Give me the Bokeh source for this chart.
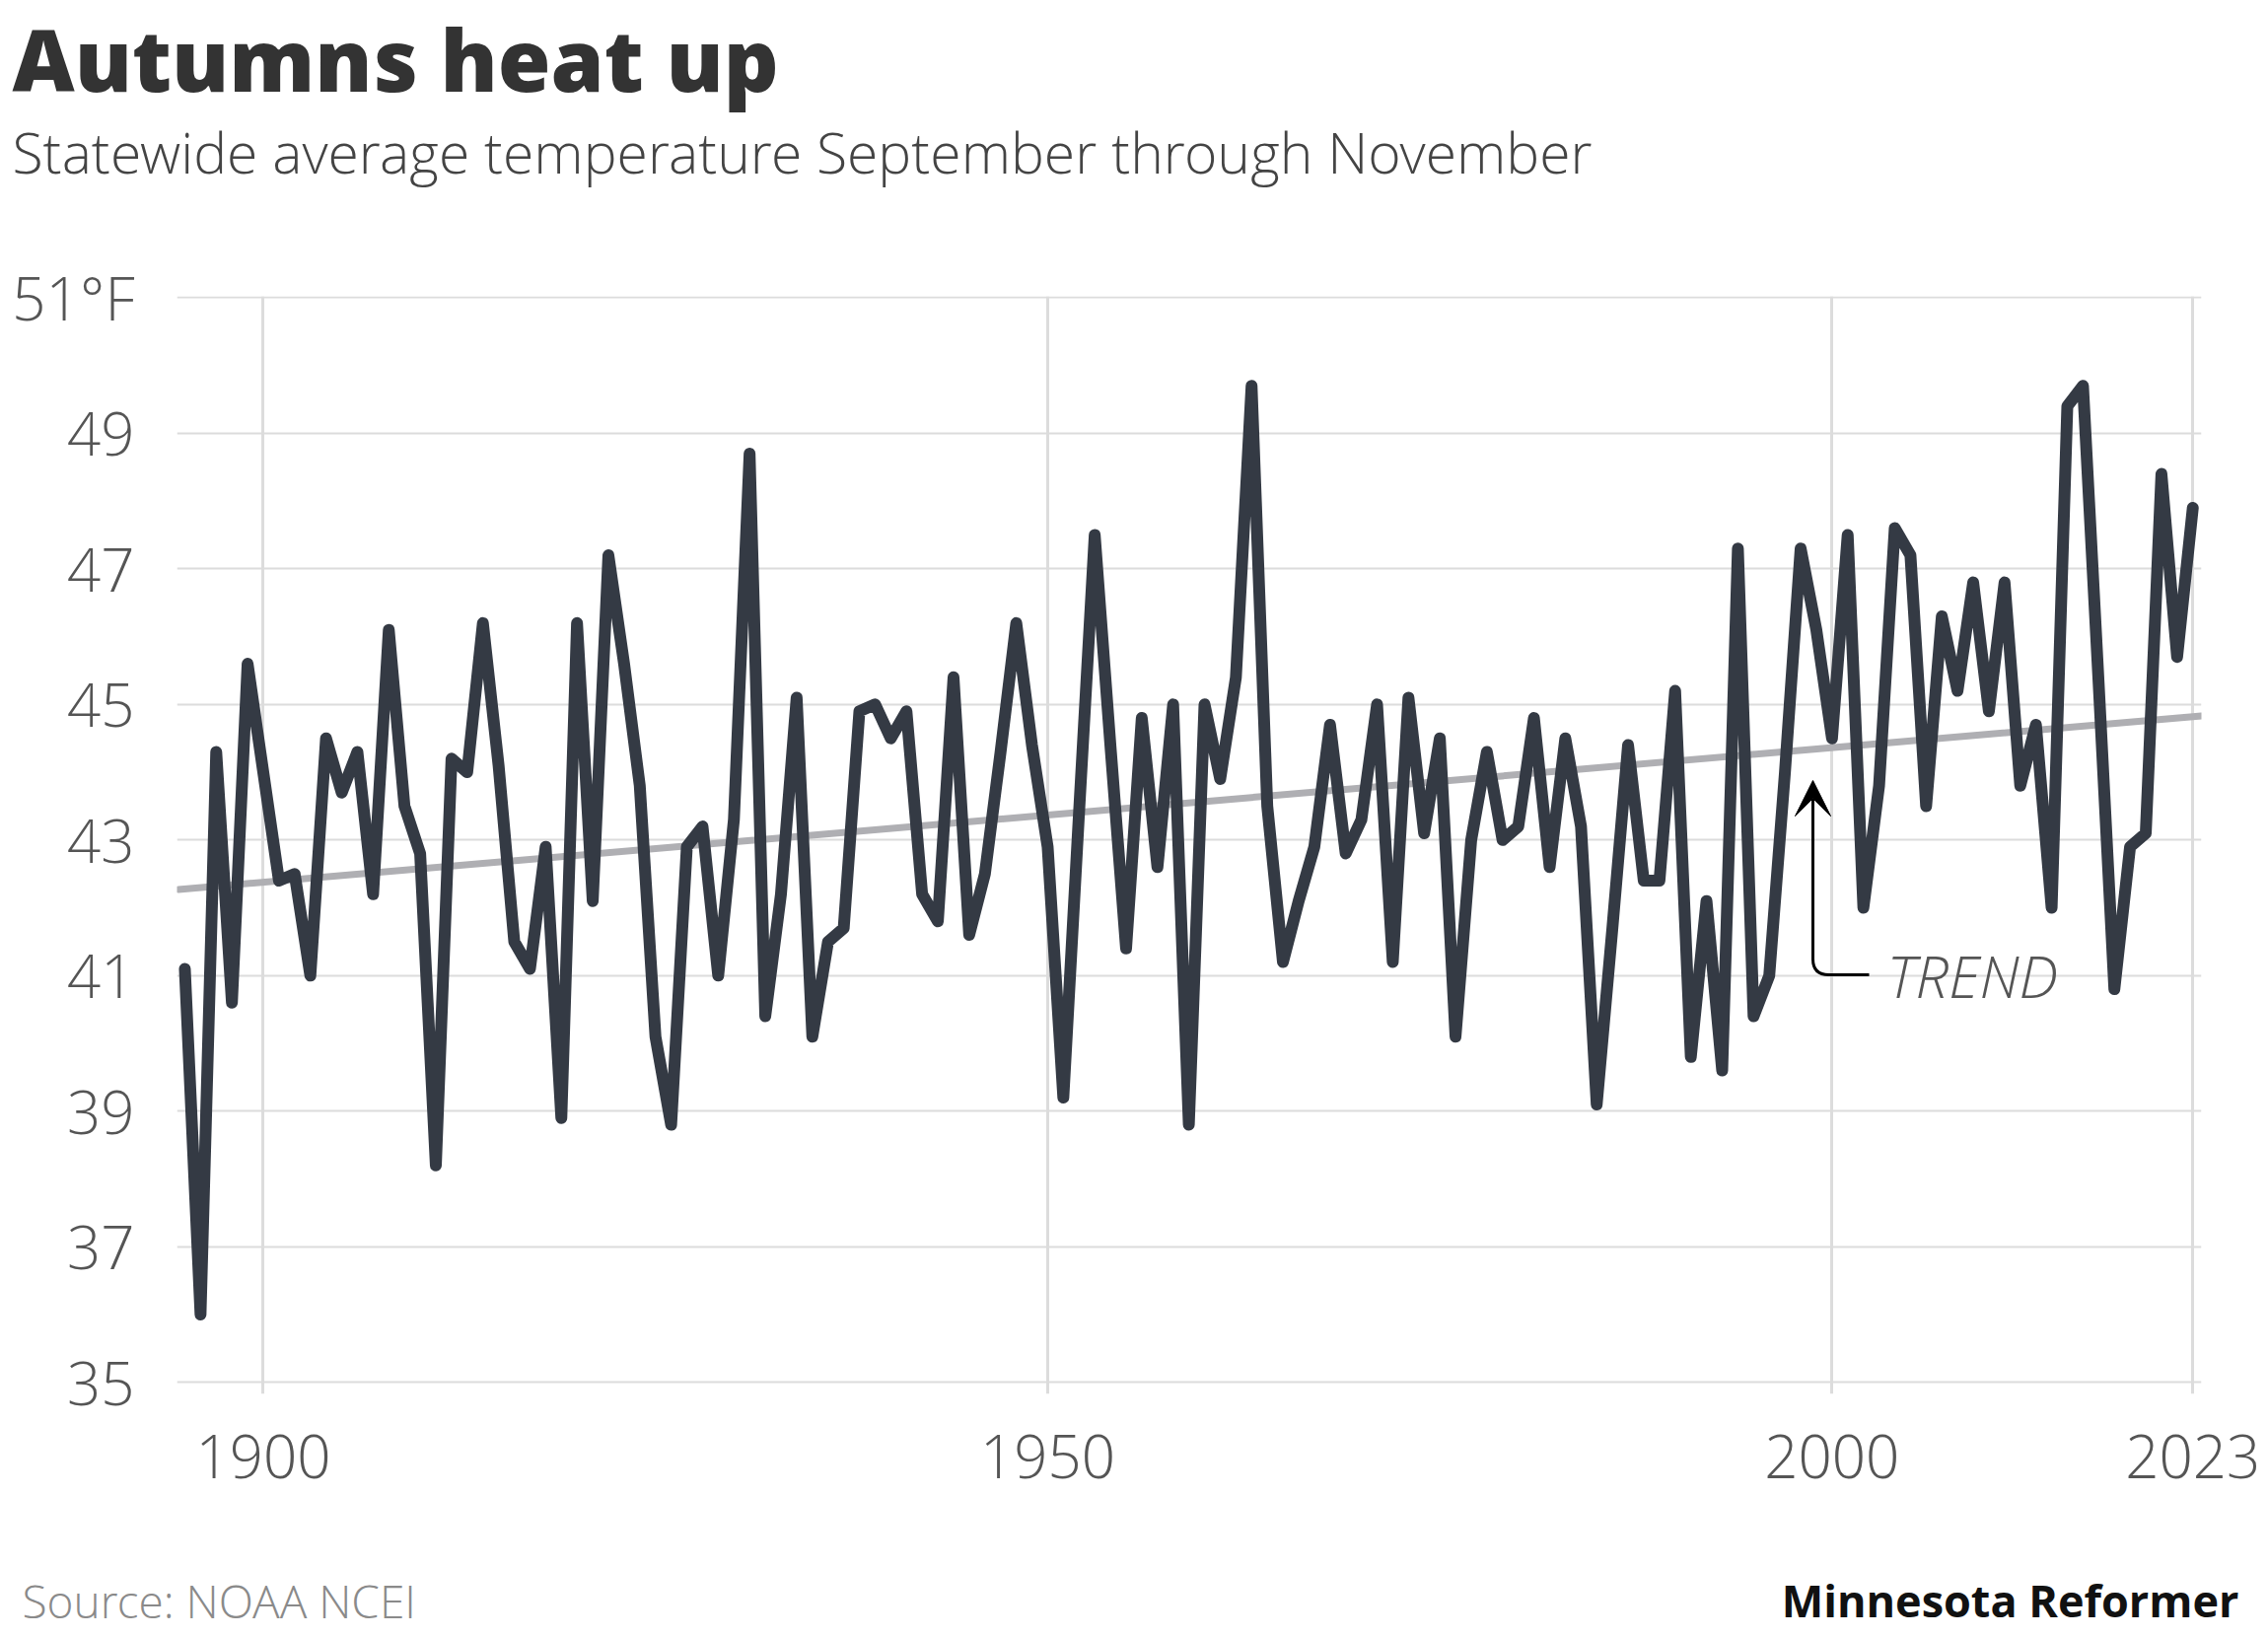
from bokeh.plotting import figure
from bokeh.models import Label, Arrow, VeeHead, FixedTicker, Range1d
from bokeh.embed import file_html
from bokeh.resources import INLINE

# ---------------- data ----------------
years = list(range(1895, 2024))
temps = [
    41.1, 36.0, 44.3, 40.6, 45.6, 44.0, 42.4, 42.5, 41.0, 44.5,   # 1895-1904
    43.7, 44.3, 42.2, 46.1, 43.5, 42.8, 38.2, 44.2, 44.0, 46.2,   # 1905-1914
    44.1, 41.5, 41.1, 42.9, 38.9, 46.2, 42.1, 47.2, 45.6, 43.8,   # 1915-1924
    40.1, 38.8, 42.9, 43.2, 41.0, 43.3, 48.7, 40.4, 42.2, 45.1,   # 1925-1934
    40.1, 41.5, 41.7, 44.9, 45.0, 44.5, 44.9, 42.2, 41.8, 45.4,   # 1935-1944
    41.6, 42.5, 44.3, 46.2, 44.4, 42.9, 39.2, 43.4, 47.5, 44.4,   # 1945-1954
    41.4, 44.8, 42.6, 45.0, 38.8, 45.0, 43.9, 45.4, 49.7, 43.5,   # 1955-1964
    41.2, 42.1, 42.9, 44.7, 42.8, 43.3, 45.0, 41.2, 45.1, 43.1,   # 1965-1974
    44.5, 40.1, 43.0, 44.3, 43.0, 43.2, 44.8, 42.6, 44.5, 43.2,   # 1975-1984
    39.1, 41.7, 44.4, 42.4, 42.4, 45.2, 39.8, 42.1, 39.6, 47.3,   # 1985-1994
    40.4, 41.0, 44.0, 47.3, 46.1, 44.5, 47.5, 42.0, 43.8, 47.6,   # 1995-2004
    47.2, 43.5, 46.3, 45.2, 46.8, 44.9, 46.8, 43.8, 44.7, 42.0,   # 2005-2014
    49.4, 49.7, 45.3, 40.8, 42.9, 43.1, 48.4, 45.7, 47.9,         # 2015-2023
]
trend_years = [1894.6, 2023.55]
trend_temps = [42.27, 44.83]
x_ticks = [1900, 1950, 2000, 2023]
y_ticks = [35, 37, 39, 41, 43, 45, 47, 49, 51]
y_label_overrides = {51: "51°F"}

# ---------------- layout ----------------
W, H = 2300, 1660
FRAME_L, FRAME_R, FRAME_T, FRAME_B = 179, 2232, 300, 1413
X0, X1 = 1894.5, 2023.55
Y0, Y1 = 34.83, 51.02


def px2x(px):
    return X0 + (px - FRAME_L) * (X1 - X0) / (FRAME_R - FRAME_L)


def px2y(py):
    return Y1 - (py - FRAME_T) * (Y1 - Y0) / (FRAME_B - FRAME_T)


LIGHT = "'Open Sans Light', 'Open Sans', sans-serif"
HEAVY = "'Open Sans ExtraBold', 'Open Sans', sans-serif"
BOLD = "'Open Sans', sans-serif"

p = figure(width=W, height=H, output_backend="svg", toolbar_location=None,
           x_range=Range1d(X0, X1), y_range=Range1d(Y0, Y1),
           min_border_left=FRAME_L, min_border_right=W - FRAME_R,
           min_border_top=FRAME_T, min_border_bottom=H - FRAME_B)
p.outline_line_color = None
p.background_fill_color = "white"
p.border_fill_color = "white"

# axes
for ax in (p.xaxis[0], p.yaxis[0]):
    ax.axis_line_color = None
    ax.major_tick_line_color = None
    ax.minor_tick_line_color = None
    ax.major_label_text_font = LIGHT
    ax.major_label_text_font_size = "60px"
    ax.major_label_text_color = "#555555"

p.xaxis.ticker = FixedTicker(ticks=x_ticks)
p.yaxis.ticker = FixedTicker(ticks=y_ticks)
p.yaxis.major_label_overrides = y_label_overrides
p.yaxis.major_label_standoff = 37
p.xaxis.major_label_standoff = 35

p.xgrid.grid_line_color = "#dcdcdc"
p.xgrid.grid_line_width = 3
p.ygrid.grid_line_color = "#dcdcdc"
p.ygrid.grid_line_width = 2

# trend + series
p.line(trend_years, trend_temps, line_color="#afafb3", line_width=7, line_cap="round")
p.line(years, temps, line_color="#343a44", line_width=12,
       line_join="round", line_cap="round")

# TREND annotation
ax_x = px2x(1838)
p.add_layout(Arrow(end=VeeHead(size=36, fill_color="black", line_color="black", line_width=1),
                   x_start=ax_x, y_start=px2y(973), x_end=ax_x, y_end=px2y(791),
                   line_color="black", line_width=3))
p.quadratic(x0=[ax_x], y0=[px2y(972)], cx=[ax_x], cy=[px2y(988)],
            x1=[px2x(1854)], y1=[px2y(988)], line_color="black", line_width=3)
p.line([px2x(1853), px2x(1895)], [px2y(988), px2y(988)], line_color="black", line_width=3)
p.add_layout(Label(x=px2x(1913), y=px2y(988), text="TREND", text_font=LIGHT,
                   text_font_style="italic", text_font_size="60px", text_color="#555555",
                   text_align="left", text_baseline="middle"))

# titles and footer (placed in side panels so they are not clipped to the frame)
p.add_layout(Label(x=px2x(12), y=px2y(58), text="Autumns heat up", text_font=HEAVY,
                   text_font_style="bold", text_font_size="87px", text_color="#333333",
                   text_align="left", text_baseline="middle"), "above")
p.add_layout(Label(x=px2x(12), y=px2y(153),
                   text="Statewide average temperature September through November",
                   text_font=LIGHT, text_font_size="57px", text_color="#444444",
                   text_align="left", text_baseline="middle"), "above")
p.add_layout(Label(x=px2x(22), y=px2y(1622), text="Source: NOAA NCEI", text_font=LIGHT,
                   text_font_size="46px", text_color="#8a8a8a",
                   text_align="left", text_baseline="middle"), "below")
p.add_layout(Label(x=px2x(2270), y=px2y(1622), text="Minnesota Reformer", text_font=BOLD,
                   text_font_style="bold", text_font_size="45px", text_color="#111111",
                   text_align="right", text_baseline="middle"), "below")

open("out.html", "w").write(file_html(p, INLINE))
